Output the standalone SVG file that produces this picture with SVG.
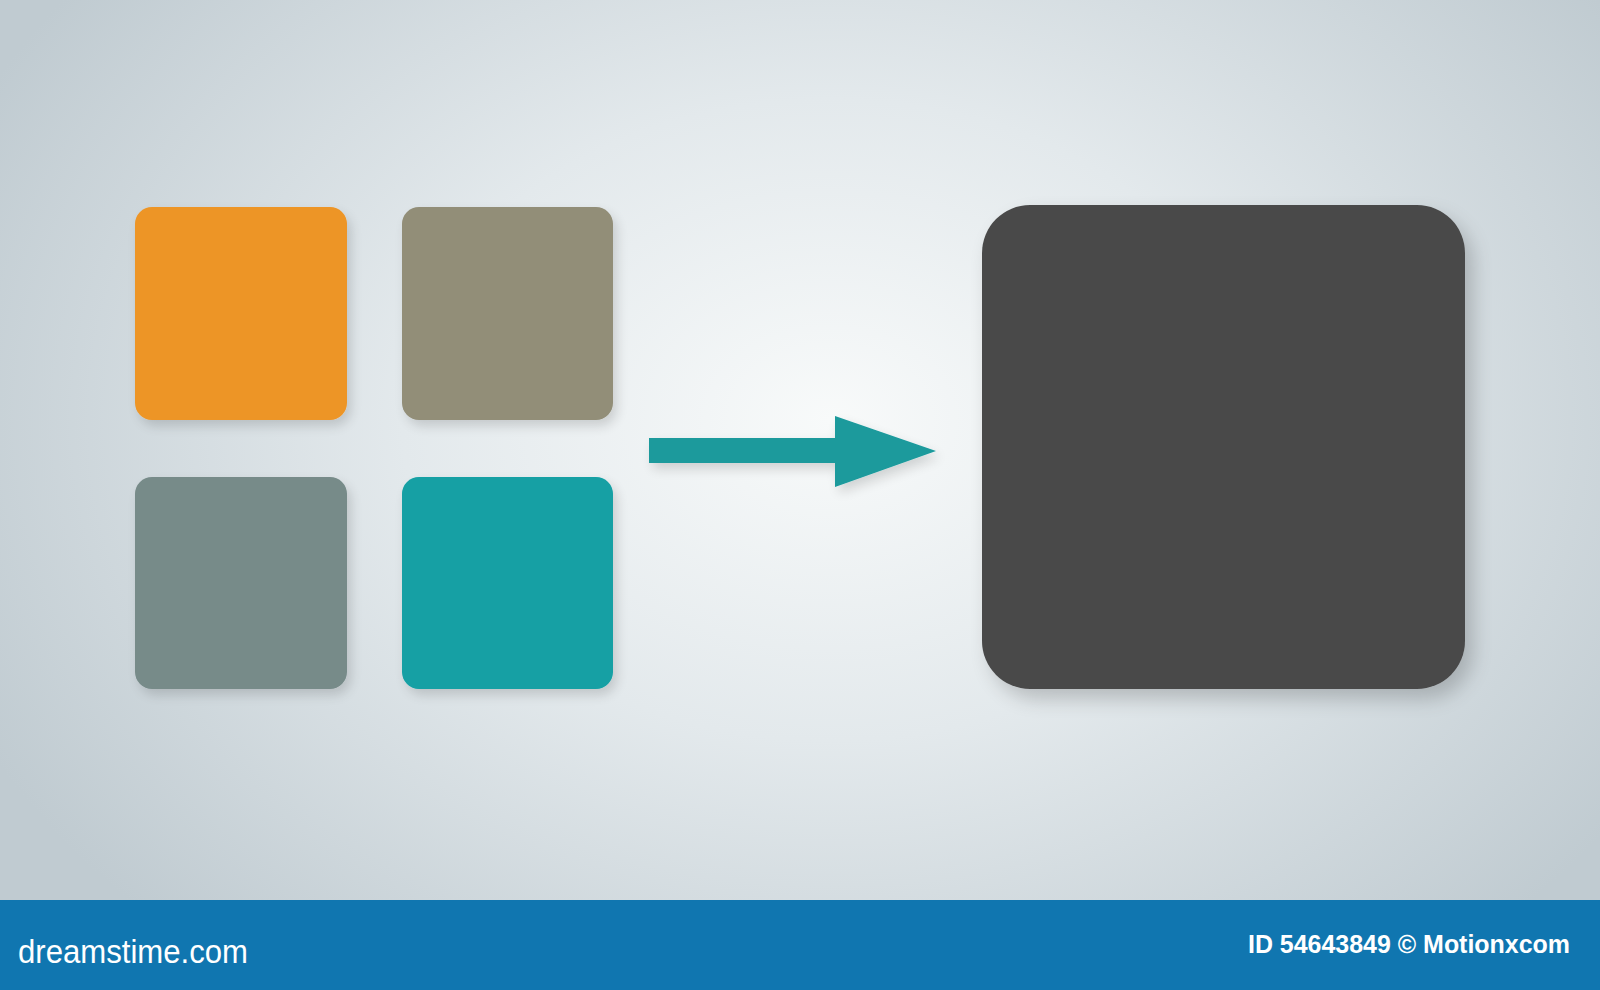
<svg xmlns="http://www.w3.org/2000/svg" width="1600" height="990" viewBox="0 0 1600 990">
  <defs>
    <radialGradient id="bg" cx="830" cy="420" r="950" gradientUnits="userSpaceOnUse" gradientTransform="translate(830 420) scale(1 0.75) translate(-830 -420)">
      <stop offset="0" stop-color="#f8fafa"/>
      <stop offset="0.45" stop-color="#e3e9ec"/>
      <stop offset="1" stop-color="#c0cbd1"/>
    </radialGradient>
    <filter id="shadow" x="-10%" y="-10%" width="130%" height="130%">
      <feGaussianBlur in="SourceAlpha" stdDeviation="6"/>
      <feOffset dx="4" dy="6" result="b"/>
      <feComponentTransfer><feFuncA type="linear" slope="0.15"/></feComponentTransfer>
      <feMerge><feMergeNode/><feMergeNode in="SourceGraphic"/></feMerge>
    </filter>
    <filter id="shadowBig" x="-10%" y="-10%" width="130%" height="130%">
      <feGaussianBlur in="SourceAlpha" stdDeviation="10"/>
      <feOffset dx="8" dy="10" result="b"/>
      <feComponentTransfer><feFuncA type="linear" slope="0.2"/></feComponentTransfer>
      <feMerge><feMergeNode/><feMergeNode in="SourceGraphic"/></feMerge>
    </filter>
  </defs>
  <style>
    .tile { filter: url(#shadow); }
    .foot { fill: #ffffff; font-family: "Liberation Sans", Arial, sans-serif; }
  </style>
  <rect x="0" y="0" width="1600" height="990" fill="url(#bg)"/>

  <g id="node-orange"><rect class="tile" x="135" y="207" width="212" height="213" rx="17" fill="#ed9527"/></g>
  <g id="node-tan"><rect class="tile" x="402" y="207" width="211" height="213" rx="17" fill="#928e78"/></g>
  <g id="node-grey"><rect class="tile" x="135" y="477" width="212" height="212" rx="17" fill="#778b89"/></g>
  <g id="node-teal"><rect class="tile" x="402" y="477" width="211" height="212" rx="17" fill="#13a0a4"/></g>

  <g id="connectors">
    <path d="M649 438 H835 V416 L936 451 L835 487 V463 H649 Z" fill="#1a9a9c" filter="url(#shadow)"/>
  </g>

  <g id="node-result"><rect x="982" y="205" width="483" height="484" rx="48" fill="#4a4a4a" filter="url(#shadowBig)"/></g>

  <g id="footer">
    <rect x="0" y="900" width="1600" height="90" fill="#1076b0"/>
    <text class="foot" x="18" y="963" font-size="33" textLength="230" lengthAdjust="spacingAndGlyphs">dreamstime.com</text>
    <text class="foot" x="1248" y="953" font-size="25" font-weight="bold" textLength="322" lengthAdjust="spacingAndGlyphs">ID 54643849 © Motionxcom</text>
  </g>
</svg>
